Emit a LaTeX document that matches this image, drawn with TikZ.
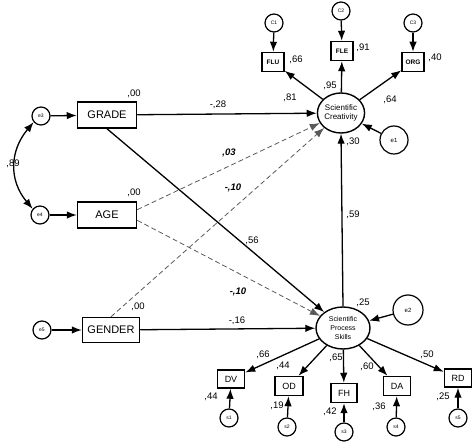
\documentclass[tikz,border=0pt]{standalone}
\usepackage{fontspec}
\setmainfont{Liberation Sans}
\usetikzlibrary{arrows.meta,shapes.geometric}

\tikzset{
  obs/.style={draw,line width=1.5pt,rectangle,inner sep=0pt,minimum width=59pt,minimum height=26pt,font=\fontsize{11}{11}\selectfont},
  ind/.style={draw,line width=1.5pt,rectangle,inner sep=0pt,minimum width=22pt,minimum height=19pt,font=\bfseries\fontsize{6.5}{7}\selectfont},
  skl/.style={draw,line width=1.5pt,rectangle,inner sep=0pt,minimum width=27pt,minimum height=18pt,font=\fontsize{9}{9}\selectfont},
  err/.style={draw,line width=1.2pt,circle,inner sep=0pt,minimum size=18pt,font=\fontsize{5}{5}\selectfont},
  lat/.style={draw,line width=1.4pt,ellipse,inner sep=0pt,align=center},
  path/.style={line width=1.3pt,-{Latex[length=10pt,width=7.5pt]}},
  weak/.style={line width=0.8pt,gray!70!black,dash pattern=on 5pt off 3pt,-{Latex[length=10pt,width=7.5pt]}},
  num/.style={font=\fontsize{9.5}{9.5}\selectfont,inner sep=0pt},
  bnum/.style={font=\bfseries\itshape\fontsize{9.5}{9.5}\selectfont,inner sep=0pt}
}

\begin{document}
\begin{tikzpicture}[x=1pt,y=-1pt]

\useasboundingbox (0,0) rectangle (474,443);

% latent variables
\node[lat,minimum width=45pt,minimum height=40pt,font=\fontsize{8}{9}\selectfont] (sc) at (341,113) {Scientific\\Creativity};
\node[lat,minimum width=54pt,minimum height=42pt,font=\fontsize{7}{9}\selectfont] (sps) at (343,328) {Scientific\\Process\\Skills};

% exogenous variables
\node[obs] (grade) at (107,115) {GRADE};
\node[obs] (age) at (107,215) {AGE};
\node[obs,minimum width=57pt,minimum height=25pt] (gender) at (111,330) {GENDER};
\node[err] (e3) at (41,116) {e3};
\node[err] (e4) at (40,215) {e4};
\node[err] (e5) at (42,330) {e5};

% disturbances
\node[err,minimum size=28pt,font=\fontsize{6}{6}\selectfont] (e1) at (394,140) {e1};
\node[err,minimum size=30pt,font=\fontsize{6}{6}\selectfont] (e2) at (408,310) {e2};

% creativity indicators
\node[ind] (flu) at (273,62) {FLU};
\node[ind] (fle) at (342,51) {FLE};
\node[ind] (org) at (413,62) {ORG};
\node[err] (c1) at (274,23) {C1};
\node[err] (c2) at (341,11) {C2};
\node[err] (c3) at (413,23) {C3};

% process skill indicators
\node[skl] (dv) at (231,379) {DV};
\node[skl,minimum width=28pt,minimum height=19pt] (od) at (289,386) {OD};
\node[skl,minimum width=26pt,minimum height=19pt] (fh) at (344,393) {FH};
\node[skl,minimum height=19pt] (da) at (397,386) {DA};
\node[skl] (rd) at (458,378) {RD};
\node[err] (s1) at (229,418) {s1};
\node[err] (s2) at (287,427) {s2};
\node[err] (s3) at (344,432) {s3};
\node[err] (s4) at (396,427) {s4};
\node[err] (s5) at (458,418) {s5};

% structural paths
\draw[path] (grade) -- (sc);
\draw[path] (grade.south) -- (sps);
\draw[path] (gender) -- (sps);
\draw[path] (sps.north) -- (sc.south);
\draw[weak] (age.10) -- (sc);
\draw[weak] (gender.north) -- (sc);
\draw[weak] (age.-10) -- (sps);
\draw[path] (e1) -- (sc);
\draw[path] (e2) -- (sps);
\draw[path] (e3) -- (grade);
\draw[path] (e4) -- (age);
\draw[path] (e5) -- (gender);
\draw[line width=1.3pt,{Latex[length=10pt,width=7.5pt]}-{Latex[length=10pt,width=7.5pt]}] (e3.220) to[out=230,in=130,looseness=1.1] (e4.140);

% measurement paths
\foreach \t in {flu,fle,org}
    \draw[path] (sc) -- (\t);
\foreach \t/\c in {flu/c1,fle/c2,org/c3}
    \draw[path] (\c) -- (\t);
\foreach \t in {dv,od,fh,da,rd}
    \draw[path] (sps) -- (\t);
\foreach \t/\s in {dv/s1,od/s2,fh/s3,da/s4,rd/s5}
    \draw[path] (\s) -- (\t);

% estimates
\foreach \x/\y/\v [count=\i] in {134/94/{,00},218/105/{-,28},290/98/{,81},330/86/{,95},390/100/{,64},
    296/60/{,66},363/48/{,91},435/58/{,40},353/142/{,30},13/164/{,89},134/193/{,00},
    353/215/{,59},252/241/{,56},138/307/{,00},237/321/{-,16},363/303/{,25},
    263/355/{,66},283/366/{,44},336/358/{,65},367/367/{,60},427/355/{,50},
    211/397/{,44},277/406/{,19},330/412/{,42},379/407/{,36},443/397/{,25}}
    \node[num] (n\i) at (\x,\y) {\v};
\foreach \x/\y/\v [count=\i] in {229/153/{,03},233/188/{-,10},238/292/{-,10}}
    \node[bnum] (b\i) at (\x,\y) {\v};

\end{tikzpicture}
\end{document}
